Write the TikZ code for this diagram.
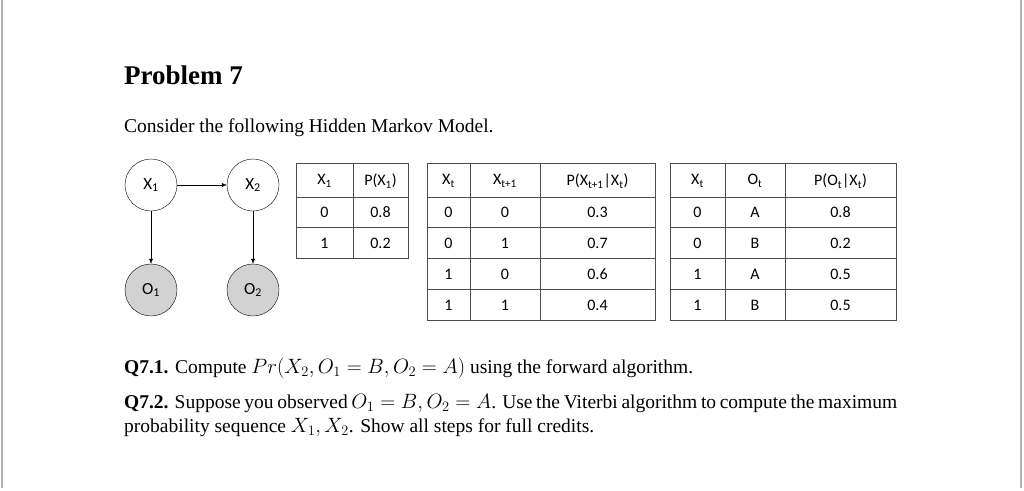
\documentclass[tikz,border=0pt]{standalone}
\usepackage{fontspec}
\setmainfont{Liberation Serif}
\newfontfamily\carl{Carlito}
\usetikzlibrary{arrows.meta}
\newcommand{\sbs}[1]{\textsubscript{#1}}
\tikzset{
 st/.style={circle,draw,thin,minimum size=52pt,inner sep=0pt,font=\carl\fontsize{17}{17}\selectfont},
 obs/.style={st,fill=gray!35},
 ar/.style={-{Latex[length=5pt,width=4pt]},thin},
 cell/.style={font=\carl\fontsize{16}{16}\selectfont,inner sep=0pt},
 tb/.style={draw=black!70,line width=0.7pt},
 txt/.style={anchor=base west,inner sep=0pt,font=\fontsize{19.5}{24}\selectfont}
}
\begin{document}
\begin{tikzpicture}[x=1pt,y=-1pt]
\useasboundingbox (0,0) rectangle (1024,490);
\draw[gray!60,line width=1.5pt] (2,0) -- (2,488) (1021,0) -- (1021,488);
\node[anchor=base west,inner sep=0pt,font=\bfseries\fontsize{27}{30}\selectfont] (title) at (124,84) {Problem 7};
\node[txt] (intro) at (124,132) {Consider the following Hidden Markov Model.};
% graph
\node[st] (x1) at (151,185) {X\sbs{1}};
\node[st] (x2) at (253,185) {X\sbs{2}};
\node[obs] (o1) at (151,290) {O\sbs{1}};
\node[obs] (o2) at (253,290) {O\sbs{2}};
\draw[ar] (x1) -- (x2);
\draw[ar] (x1) -- (o1);
\draw[ar] (x2) -- (o2);
% table 1
\draw[tb] (296,163) rectangle (408,258);
\draw[tb] (353,163) -- (353,258) (296,197) -- (408,197) (296,227) -- (408,227);
\node[cell] (a11) at (324.5,181) {X\sbs{1}};
\node[cell] (a12) at (380.5,181) {P(X\sbs{1})};
\node[cell] (a21) at (324.5,212) {0};
\node[cell] (a22) at (380.5,212) {0.8};
\node[cell] (a31) at (324.5,243) {1};
\node[cell] (a32) at (380.5,243) {0.2};
% table 2
\draw[tb] (427,163) rectangle (655,320);
\draw[tb] (470,163) -- (470,320) (540,163) -- (540,320);
\foreach \y in {197,227,258,289} \draw[tb] (427,\y) -- (655,\y);
\node[cell] (b01) at (448.5,181) {X\sbs{t}};
\node[cell] (b02) at (505,181) {X\sbs{t+1}};
\node[cell] (b03) at (597.5,181) {P(X\sbs{t+1}|X\sbs{t})};
\foreach \r/\y/\a/\b/\p in {1/212/0/0/0.3,2/243/0/1/0.7,3/274/1/0/0.6,4/305/1/1/0.4}{
 \node[cell] (b\r1) at (448.5,\y) {\a};
 \node[cell] (b\r2) at (505,\y) {\b};
 \node[cell] (b\r3) at (597.5,\y) {\p};
}
% table 3
\draw[tb] (670,163) rectangle (896,320);
\draw[tb] (725,163) -- (725,320) (785,163) -- (785,320);
\foreach \y in {197,227,258,289} \draw[tb] (670,\y) -- (896,\y);
\node[cell] (c01) at (697.5,181) {X\sbs{t}};
\node[cell] (c02) at (755,181) {O\sbs{t}};
\node[cell] (c03) at (840.5,181) {P(O\sbs{t}|X\sbs{t})};
\foreach \r/\y/\a/\b/\p in {1/212/0/A/0.8,2/243/0/B/0.2,3/274/1/A/0.5,4/305/1/B/0.5}{
 \node[cell] (c\r1) at (697.5,\y) {\a};
 \node[cell] (c\r2) at (755,\y) {\b};
 \node[cell] (c\r3) at (840.5,\y) {\p};
}
% questions
\node[txt] (q1) at (124,373) {\textbf{Q7.1.} Compute $Pr(X_2,O_1=B,O_2=A)$ using the forward algorithm.};
\node[txt,anchor=north west,text width=773pt,align=justify] (q2) at (124,394) {\textbf{Q7.2.} Suppose you observed $O_1=B,O_2=A$. Use the Viterbi algorithm to compute the maximum probability sequence $X_1,X_2$. Show all steps for full credits.};
\end{tikzpicture}
\end{document}
